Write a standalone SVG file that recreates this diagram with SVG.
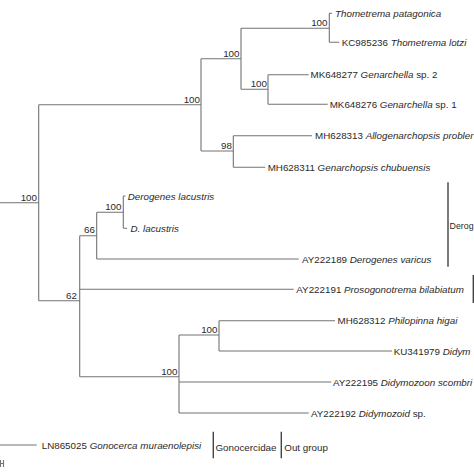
<svg xmlns="http://www.w3.org/2000/svg" width="474" height="474" viewBox="0 0 474 474">
<style>
.br{stroke:#737373;stroke-width:1.1;fill:none}
.bk{stroke:#444;stroke-width:1.4;fill:none}
text{font-family:"Liberation Sans",Arial,sans-serif;font-size:9.8px;fill:#2a2a2a}
.bs{text-anchor:end}
.i{font-style:italic}
</style>
<rect width="474" height="474" fill="#fff"/>
<g id="connectors">
<path class="br" d="M0 202.7H38.7M38.7 104.7V300.7M38.7 104.7H201M201 58.7V151M201 58.7H241M241 28.3V89.3M241 28.3H329.3M329.3 13.3V42.3M329.3 13.3H332M329.3 42.3H339.3M241 89.3H268M268 74.7V104.3M268 74.7H308.7M268 104.3H327.7M201 151H233.3M233.3 135.7V167.3M233.3 135.7H312M233.3 167.3H265.3"/>
<path class="br" d="M38.7 300.7H79.7M79.7 235.7V376.7M79.7 235.7H96.7M96.7 212.3V259M96.7 212.3H123.3M123.3 196V228.3M123.3 196H125.5M123.3 228.3H127M96.7 259H298.7M79.7 289.3H293.7M79.7 376.7H179M179 335V413M179 335H219M219 320.7V351M219 320.7H335M219 351H392M179 382H331.3M179 413H308.7"/>
<path class="br" d="M0 445H36.7"/>
<path class="br" d="M0.5 460V467M0.5 463.5H3.5M3.5 460V467"/>
</g>
<g id="support">
<text class="bs" x="37" y="201">100</text>
<text class="bs" x="200" y="102.5">100</text>
<text class="bs" x="239.5" y="56.5">100</text>
<text class="bs" x="327.5" y="26">100</text>
<text class="bs" x="267" y="87">100</text>
<text class="bs" x="232" y="148.5">98</text>
<text class="bs" x="77" y="298.5">62</text>
<text class="bs" x="95" y="233">66</text>
<text class="bs" x="121.5" y="210">100</text>
<text class="bs" x="177.5" y="374.5">100</text>
<text class="bs" x="217.5" y="333">100</text>
</g>
<g id="leaves">
<text id="t1" x="335" y="16.9" class="i">Thometrema patagonica</text>
<text id="t2" x="341.7" y="45.9">KC985236 <tspan class="i">Thometrema lotzi</tspan></text>
<text id="t3" x="310.5" y="78.3">MK648277 <tspan class="i">Genarchella</tspan> sp. 2</text>
<text id="t4" x="329.7" y="107.9">MK648276 <tspan class="i">Genarchella</tspan> sp. 1</text>
<text id="t5" x="315" y="139.3">MH628313 <tspan class="i">Allogenarchopsis probler</tspan></text>
<text id="t6" x="267.7" y="170.9">MH628311 <tspan class="i">Genarchopsis chubuensis</tspan></text>
<text id="t7" x="127.7" y="199.6" class="i">Derogenes lacustris</text>
<text id="t8" x="130.5" y="231.9" class="i">D. lacustris</text>
<text id="t9" x="302" y="262.6">AY222189 <tspan class="i">Derogenes varicus</tspan></text>
<text id="t10" x="296.3" y="292.9">AY222191 <tspan class="i">Prosogonotrema bilabiatum</tspan></text>
<text id="t11" x="337.5" y="324.3">MH628312 <tspan class="i">Philopinna higai</tspan></text>
<text id="t12" x="393.7" y="354.6">KU341979 <tspan class="i">Didym</tspan></text>
<text id="t13" x="333" y="385.6">AY222195 <tspan class="i">Didymozoon scombri</tspan></text>
<text id="t14" x="311" y="416.6">AY222192 <tspan class="i">Didymozoid</tspan> sp.</text>
<text id="t15" x="41.7" y="448.6">LN865025 <tspan class="i">Gonocerca muraenolepisi</tspan></text>
</g>
<g id="groups">
<path class="bk" d="M448 182.3V266.7M473.3 275V303M213.3 431.7V458.3M281.3 431.7V458.3"/>
<text x="449.6" y="228.9" style="font-size:8.8px">Derog</text>
<text x="215.5" y="451.2">Gonocercidae</text>
<text x="284.3" y="451.2">Out group</text>
</g>
</svg>
